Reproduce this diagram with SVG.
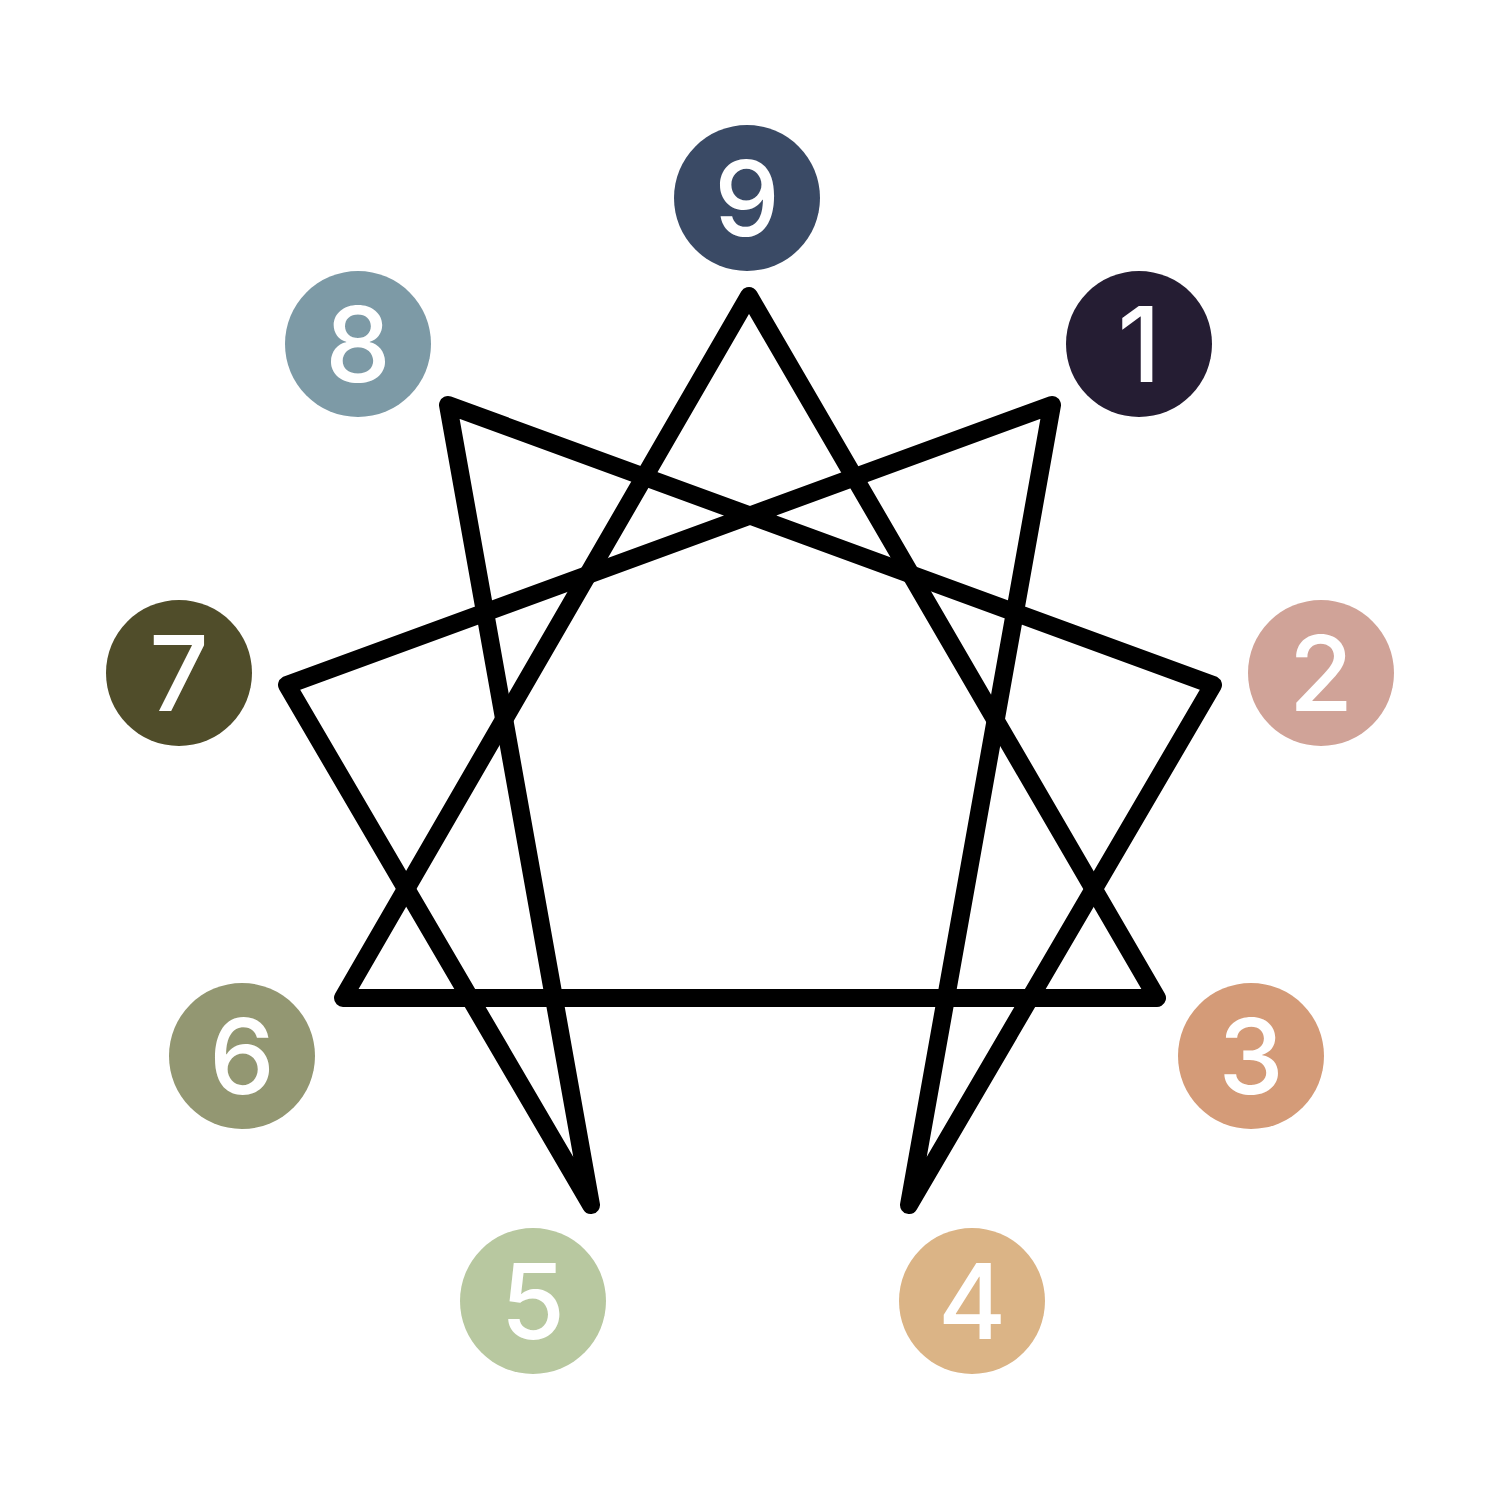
<svg xmlns="http://www.w3.org/2000/svg" width="1500" height="1499" viewBox="0 0 1500 1499">
<style>
.l{fill:none;stroke:#000;stroke-width:18;stroke-linejoin:round;stroke-linecap:round}
text{font-family:"Inter","Liberation Sans",sans-serif;font-size:104px;fill:#fff;text-anchor:middle;font-weight:500}
</style>
<rect width="1500" height="1499" fill="#fff"/>
<g id="connectors">
<polygon class="l" points="749,296 1157,998 343,998"/>
<polygon class="l" points="1052,405 909,1205 1213,685 448,405 591,1205 287,685"/>
</g>
<g id="n9"><circle cx="747" cy="198" r="73" fill="#3a4a65"/><text x="747" y="236">9</text></g>
<g id="n1"><circle cx="1139" cy="344" r="73" fill="#251d33"/><text x="1139" y="382">1</text></g>
<g id="n2"><circle cx="1321" cy="673" r="73" fill="#d0a398"/><text x="1321" y="711">2</text></g>
<g id="n3"><circle cx="1251" cy="1056" r="73" fill="#d49b78"/><text x="1251" y="1094">3</text></g>
<g id="n4"><circle cx="972" cy="1301" r="73" fill="#dbb486"/><text x="972" y="1339">4</text></g>
<g id="n5"><circle cx="533" cy="1301" r="73" fill="#b8c8a0"/><text x="533" y="1339">5</text></g>
<g id="n6"><circle cx="242" cy="1056" r="73" fill="#939772"/><text x="242" y="1094">6</text></g>
<g id="n7"><circle cx="179" cy="673" r="73" fill="#504d2a"/><text x="179" y="711">7</text></g>
<g id="n8"><circle cx="358" cy="344" r="73" fill="#7d9aa6"/><text x="358" y="382">8</text></g>
</svg>
